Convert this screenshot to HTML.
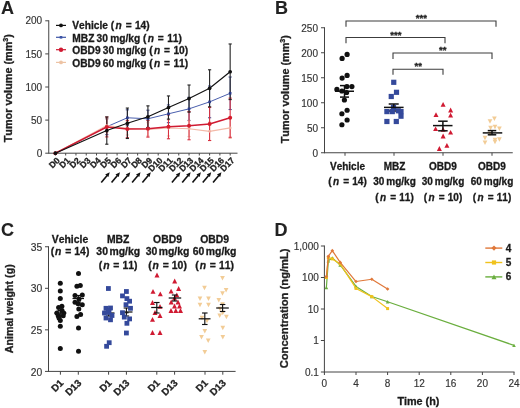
<!DOCTYPE html>
<html><head><meta charset="utf-8"><style>
html,body{margin:0;padding:0;background:#fff;}
svg{display:block;will-change:transform;font-family:'Liberation Sans',sans-serif;font-kerning:none;}
text{font-family:'Liberation Sans',sans-serif;font-kerning:none;}
</style></head><body>
<svg width="520" height="408" viewBox="0 0 520 408">
<rect width="520" height="408" fill="#fff"/>
<text x="1.00" y="13.60" font-size="18" font-weight="bold" text-anchor="start" fill="#222" stroke="#222" stroke-width="0.1" >A</text>
<line x1="48.75" y1="20.30" x2="48.75" y2="153.70" stroke="#444" stroke-width="1"/>
<line x1="45.25" y1="153.20" x2="48.75" y2="153.20" stroke="#444" stroke-width="1"/>
<text x="42.20" y="156.80" font-size="10" font-weight="normal" text-anchor="end" fill="#333" stroke="#333" stroke-width="0.15" >0</text>
<line x1="45.25" y1="120.10" x2="48.75" y2="120.10" stroke="#444" stroke-width="1"/>
<text x="42.20" y="123.70" font-size="10" font-weight="normal" text-anchor="end" fill="#333" stroke="#333" stroke-width="0.15" >50</text>
<line x1="45.25" y1="87.00" x2="48.75" y2="87.00" stroke="#444" stroke-width="1"/>
<text x="42.20" y="90.60" font-size="10" font-weight="normal" text-anchor="end" fill="#333" stroke="#333" stroke-width="0.15" >100</text>
<line x1="45.25" y1="53.90" x2="48.75" y2="53.90" stroke="#444" stroke-width="1"/>
<text x="42.20" y="57.50" font-size="10" font-weight="normal" text-anchor="end" fill="#333" stroke="#333" stroke-width="0.15" >150</text>
<line x1="45.25" y1="20.80" x2="48.75" y2="20.80" stroke="#444" stroke-width="1"/>
<text x="42.20" y="24.40" font-size="10" font-weight="normal" text-anchor="end" fill="#333" stroke="#333" stroke-width="0.15" >200</text>
<text x="0" y="0" font-size="10.85" font-weight="bold" text-anchor="middle" fill="#222" stroke="#222" stroke-width="0.3" transform="translate(8.20,88.20) rotate(-90)" dominant-baseline="central">Tumor volume (mm<tspan font-size="7" dy="-3.5">3</tspan><tspan dy="3.5">)</tspan></text>
<line x1="48.75" y1="153.20" x2="237.50" y2="153.20" stroke="#444" stroke-width="1"/>
<line x1="55.40" y1="153.20" x2="55.40" y2="155.50" stroke="#444" stroke-width="1"/>
<text x="0" y="0" font-size="8.7" font-weight="bold" text-anchor="end" fill="#222" stroke="#222" stroke-width="0.3" transform="translate(60.30,161.00) rotate(-45)">D0</text>
<line x1="65.68" y1="153.20" x2="65.68" y2="155.50" stroke="#444" stroke-width="1"/>
<text x="0" y="0" font-size="8.7" font-weight="bold" text-anchor="end" fill="#222" stroke="#222" stroke-width="0.3" transform="translate(70.58,161.00) rotate(-45)">D1</text>
<line x1="75.96" y1="153.20" x2="75.96" y2="155.50" stroke="#444" stroke-width="1"/>
<text x="0" y="0" font-size="8.7" font-weight="bold" text-anchor="end" fill="#222" stroke="#222" stroke-width="0.3" transform="translate(80.86,161.00) rotate(-45)">D2</text>
<line x1="86.24" y1="153.20" x2="86.24" y2="155.50" stroke="#444" stroke-width="1"/>
<text x="0" y="0" font-size="8.7" font-weight="bold" text-anchor="end" fill="#222" stroke="#222" stroke-width="0.3" transform="translate(91.14,161.00) rotate(-45)">D3</text>
<line x1="96.52" y1="153.20" x2="96.52" y2="155.50" stroke="#444" stroke-width="1"/>
<text x="0" y="0" font-size="8.7" font-weight="bold" text-anchor="end" fill="#222" stroke="#222" stroke-width="0.3" transform="translate(101.42,161.00) rotate(-45)">D4</text>
<line x1="106.80" y1="153.20" x2="106.80" y2="155.50" stroke="#444" stroke-width="1"/>
<text x="0" y="0" font-size="8.7" font-weight="bold" text-anchor="end" fill="#222" stroke="#222" stroke-width="0.3" transform="translate(111.70,161.00) rotate(-45)">D5</text>
<line x1="117.08" y1="153.20" x2="117.08" y2="155.50" stroke="#444" stroke-width="1"/>
<text x="0" y="0" font-size="8.7" font-weight="bold" text-anchor="end" fill="#222" stroke="#222" stroke-width="0.3" transform="translate(121.98,161.00) rotate(-45)">D6</text>
<line x1="127.36" y1="153.20" x2="127.36" y2="155.50" stroke="#444" stroke-width="1"/>
<text x="0" y="0" font-size="8.7" font-weight="bold" text-anchor="end" fill="#222" stroke="#222" stroke-width="0.3" transform="translate(132.26,161.00) rotate(-45)">D7</text>
<line x1="137.64" y1="153.20" x2="137.64" y2="155.50" stroke="#444" stroke-width="1"/>
<text x="0" y="0" font-size="8.7" font-weight="bold" text-anchor="end" fill="#222" stroke="#222" stroke-width="0.3" transform="translate(142.54,161.00) rotate(-45)">D8</text>
<line x1="147.92" y1="153.20" x2="147.92" y2="155.50" stroke="#444" stroke-width="1"/>
<text x="0" y="0" font-size="8.7" font-weight="bold" text-anchor="end" fill="#222" stroke="#222" stroke-width="0.3" transform="translate(152.82,161.00) rotate(-45)">D9</text>
<line x1="158.20" y1="153.20" x2="158.20" y2="155.50" stroke="#444" stroke-width="1"/>
<text x="0" y="0" font-size="8.7" font-weight="bold" text-anchor="end" fill="#222" stroke="#222" stroke-width="0.3" transform="translate(163.10,161.00) rotate(-45)">D10</text>
<line x1="168.48" y1="153.20" x2="168.48" y2="155.50" stroke="#444" stroke-width="1"/>
<text x="0" y="0" font-size="8.7" font-weight="bold" text-anchor="end" fill="#222" stroke="#222" stroke-width="0.3" transform="translate(173.38,161.00) rotate(-45)">D11</text>
<line x1="178.76" y1="153.20" x2="178.76" y2="155.50" stroke="#444" stroke-width="1"/>
<text x="0" y="0" font-size="8.7" font-weight="bold" text-anchor="end" fill="#222" stroke="#222" stroke-width="0.3" transform="translate(183.66,161.00) rotate(-45)">D12</text>
<line x1="189.04" y1="153.20" x2="189.04" y2="155.50" stroke="#444" stroke-width="1"/>
<text x="0" y="0" font-size="8.7" font-weight="bold" text-anchor="end" fill="#222" stroke="#222" stroke-width="0.3" transform="translate(193.94,161.00) rotate(-45)">D13</text>
<line x1="199.32" y1="153.20" x2="199.32" y2="155.50" stroke="#444" stroke-width="1"/>
<text x="0" y="0" font-size="8.7" font-weight="bold" text-anchor="end" fill="#222" stroke="#222" stroke-width="0.3" transform="translate(204.22,161.00) rotate(-45)">D14</text>
<line x1="209.60" y1="153.20" x2="209.60" y2="155.50" stroke="#444" stroke-width="1"/>
<text x="0" y="0" font-size="8.7" font-weight="bold" text-anchor="end" fill="#222" stroke="#222" stroke-width="0.3" transform="translate(214.50,161.00) rotate(-45)">D15</text>
<line x1="219.88" y1="153.20" x2="219.88" y2="155.50" stroke="#444" stroke-width="1"/>
<text x="0" y="0" font-size="8.7" font-weight="bold" text-anchor="end" fill="#222" stroke="#222" stroke-width="0.3" transform="translate(224.78,161.00) rotate(-45)">D16</text>
<line x1="230.16" y1="153.20" x2="230.16" y2="155.50" stroke="#444" stroke-width="1"/>
<text x="0" y="0" font-size="8.7" font-weight="bold" text-anchor="end" fill="#222" stroke="#222" stroke-width="0.3" transform="translate(235.06,161.00) rotate(-45)">D17</text>
<line x1="101.27" y1="182.61" x2="107.12" y2="175.39" stroke="#111" stroke-width="1.6"/>
<polygon points="109.70,172.20 108.44,177.10 105.17,174.45" fill="#111"/>
<line x1="111.55" y1="182.61" x2="117.40" y2="175.39" stroke="#111" stroke-width="1.6"/>
<polygon points="119.98,172.20 118.72,177.10 115.45,174.45" fill="#111"/>
<line x1="121.83" y1="182.61" x2="127.68" y2="175.39" stroke="#111" stroke-width="1.6"/>
<polygon points="130.26,172.20 129.00,177.10 125.73,174.45" fill="#111"/>
<line x1="132.11" y1="182.61" x2="137.96" y2="175.39" stroke="#111" stroke-width="1.6"/>
<polygon points="140.54,172.20 139.28,177.10 136.01,174.45" fill="#111"/>
<line x1="142.39" y1="182.61" x2="148.24" y2="175.39" stroke="#111" stroke-width="1.6"/>
<polygon points="150.82,172.20 149.56,177.10 146.29,174.45" fill="#111"/>
<line x1="171.93" y1="182.61" x2="177.78" y2="175.39" stroke="#111" stroke-width="1.6"/>
<polygon points="180.36,172.20 179.10,177.10 175.83,174.45" fill="#111"/>
<line x1="182.21" y1="182.61" x2="188.06" y2="175.39" stroke="#111" stroke-width="1.6"/>
<polygon points="190.64,172.20 189.38,177.10 186.11,174.45" fill="#111"/>
<line x1="192.49" y1="182.61" x2="198.34" y2="175.39" stroke="#111" stroke-width="1.6"/>
<polygon points="200.92,172.20 199.66,177.10 196.39,174.45" fill="#111"/>
<line x1="202.77" y1="182.61" x2="208.62" y2="175.39" stroke="#111" stroke-width="1.6"/>
<polygon points="211.20,172.20 209.94,177.10 206.67,174.45" fill="#111"/>
<line x1="213.05" y1="182.61" x2="218.90" y2="175.39" stroke="#111" stroke-width="1.6"/>
<polygon points="221.48,172.20 220.22,177.10 216.95,174.45" fill="#111"/>
<line x1="106.80" y1="134.66" x2="106.80" y2="118.78" stroke="#3a4890" stroke-width="1"/>
<line x1="105.20" y1="134.66" x2="108.40" y2="134.66" stroke="#3a4890" stroke-width="1"/>
<line x1="105.20" y1="118.78" x2="108.40" y2="118.78" stroke="#3a4890" stroke-width="1"/>
<line x1="127.36" y1="125.73" x2="127.36" y2="109.84" stroke="#3a4890" stroke-width="1"/>
<line x1="125.76" y1="125.73" x2="128.96" y2="125.73" stroke="#3a4890" stroke-width="1"/>
<line x1="125.76" y1="109.84" x2="128.96" y2="109.84" stroke="#3a4890" stroke-width="1"/>
<line x1="147.92" y1="127.38" x2="147.92" y2="110.17" stroke="#3a4890" stroke-width="1"/>
<line x1="146.32" y1="127.38" x2="149.52" y2="127.38" stroke="#3a4890" stroke-width="1"/>
<line x1="146.32" y1="110.17" x2="149.52" y2="110.17" stroke="#3a4890" stroke-width="1"/>
<line x1="168.48" y1="122.68" x2="168.48" y2="104.94" stroke="#3a4890" stroke-width="1"/>
<line x1="166.88" y1="122.68" x2="170.08" y2="122.68" stroke="#3a4890" stroke-width="1"/>
<line x1="166.88" y1="104.94" x2="170.08" y2="104.94" stroke="#3a4890" stroke-width="1"/>
<line x1="189.04" y1="120.43" x2="189.04" y2="97.26" stroke="#3a4890" stroke-width="1"/>
<line x1="187.44" y1="120.43" x2="190.64" y2="120.43" stroke="#3a4890" stroke-width="1"/>
<line x1="187.44" y1="97.26" x2="190.64" y2="97.26" stroke="#3a4890" stroke-width="1"/>
<line x1="209.60" y1="117.78" x2="209.60" y2="86.01" stroke="#3a4890" stroke-width="1"/>
<line x1="208.00" y1="117.78" x2="211.20" y2="117.78" stroke="#3a4890" stroke-width="1"/>
<line x1="208.00" y1="86.01" x2="211.20" y2="86.01" stroke="#3a4890" stroke-width="1"/>
<line x1="230.16" y1="109.57" x2="230.16" y2="77.00" stroke="#3a4890" stroke-width="1"/>
<line x1="228.56" y1="109.57" x2="231.76" y2="109.57" stroke="#3a4890" stroke-width="1"/>
<line x1="228.56" y1="77.00" x2="231.76" y2="77.00" stroke="#3a4890" stroke-width="1"/>
<line x1="106.80" y1="132.15" x2="106.80" y2="118.91" stroke="#f2c0b0" stroke-width="1"/>
<line x1="105.20" y1="132.15" x2="108.40" y2="132.15" stroke="#f2c0b0" stroke-width="1"/>
<line x1="105.20" y1="118.91" x2="108.40" y2="118.91" stroke="#f2c0b0" stroke-width="1"/>
<line x1="127.36" y1="134.99" x2="127.36" y2="121.75" stroke="#f2c0b0" stroke-width="1"/>
<line x1="125.76" y1="134.99" x2="128.96" y2="134.99" stroke="#f2c0b0" stroke-width="1"/>
<line x1="125.76" y1="121.75" x2="128.96" y2="121.75" stroke="#f2c0b0" stroke-width="1"/>
<line x1="147.92" y1="135.99" x2="147.92" y2="122.75" stroke="#f2c0b0" stroke-width="1"/>
<line x1="146.32" y1="135.99" x2="149.52" y2="135.99" stroke="#f2c0b0" stroke-width="1"/>
<line x1="146.32" y1="122.75" x2="149.52" y2="122.75" stroke="#f2c0b0" stroke-width="1"/>
<line x1="168.48" y1="135.99" x2="168.48" y2="120.10" stroke="#f2c0b0" stroke-width="1"/>
<line x1="166.88" y1="135.99" x2="170.08" y2="135.99" stroke="#f2c0b0" stroke-width="1"/>
<line x1="166.88" y1="120.10" x2="170.08" y2="120.10" stroke="#f2c0b0" stroke-width="1"/>
<line x1="189.04" y1="136.65" x2="189.04" y2="120.76" stroke="#f2c0b0" stroke-width="1"/>
<line x1="187.44" y1="136.65" x2="190.64" y2="136.65" stroke="#f2c0b0" stroke-width="1"/>
<line x1="187.44" y1="120.76" x2="190.64" y2="120.76" stroke="#f2c0b0" stroke-width="1"/>
<line x1="209.60" y1="140.62" x2="209.60" y2="122.09" stroke="#f2c0b0" stroke-width="1"/>
<line x1="208.00" y1="140.62" x2="211.20" y2="140.62" stroke="#f2c0b0" stroke-width="1"/>
<line x1="208.00" y1="122.09" x2="211.20" y2="122.09" stroke="#f2c0b0" stroke-width="1"/>
<line x1="230.16" y1="138.50" x2="230.16" y2="117.32" stroke="#f2c0b0" stroke-width="1"/>
<line x1="228.56" y1="138.50" x2="231.76" y2="138.50" stroke="#f2c0b0" stroke-width="1"/>
<line x1="228.56" y1="117.32" x2="231.76" y2="117.32" stroke="#f2c0b0" stroke-width="1"/>
<line x1="106.80" y1="136.91" x2="106.80" y2="117.05" stroke="#d83040" stroke-width="1.1"/>
<line x1="105.20" y1="136.91" x2="108.40" y2="136.91" stroke="#d83040" stroke-width="1.1"/>
<line x1="105.20" y1="117.05" x2="108.40" y2="117.05" stroke="#d83040" stroke-width="1.1"/>
<line x1="127.36" y1="137.64" x2="127.36" y2="120.43" stroke="#d83040" stroke-width="1.1"/>
<line x1="125.76" y1="137.64" x2="128.96" y2="137.64" stroke="#d83040" stroke-width="1.1"/>
<line x1="125.76" y1="120.43" x2="128.96" y2="120.43" stroke="#d83040" stroke-width="1.1"/>
<line x1="147.92" y1="137.11" x2="147.92" y2="120.56" stroke="#d83040" stroke-width="1.1"/>
<line x1="146.32" y1="137.11" x2="149.52" y2="137.11" stroke="#d83040" stroke-width="1.1"/>
<line x1="146.32" y1="120.56" x2="149.52" y2="120.56" stroke="#d83040" stroke-width="1.1"/>
<line x1="168.48" y1="138.77" x2="168.48" y2="114.94" stroke="#d83040" stroke-width="1.1"/>
<line x1="166.88" y1="138.77" x2="170.08" y2="138.77" stroke="#d83040" stroke-width="1.1"/>
<line x1="166.88" y1="114.94" x2="170.08" y2="114.94" stroke="#d83040" stroke-width="1.1"/>
<line x1="189.04" y1="139.76" x2="189.04" y2="111.56" stroke="#d83040" stroke-width="1.1"/>
<line x1="187.44" y1="139.76" x2="190.64" y2="139.76" stroke="#d83040" stroke-width="1.1"/>
<line x1="187.44" y1="111.56" x2="190.64" y2="111.56" stroke="#d83040" stroke-width="1.1"/>
<line x1="209.60" y1="140.49" x2="209.60" y2="107.39" stroke="#d83040" stroke-width="1.1"/>
<line x1="208.00" y1="140.49" x2="211.20" y2="140.49" stroke="#d83040" stroke-width="1.1"/>
<line x1="208.00" y1="107.39" x2="211.20" y2="107.39" stroke="#d83040" stroke-width="1.1"/>
<line x1="230.16" y1="137.31" x2="230.16" y2="98.12" stroke="#d83040" stroke-width="1.1"/>
<line x1="228.56" y1="137.31" x2="231.76" y2="137.31" stroke="#d83040" stroke-width="1.1"/>
<line x1="228.56" y1="98.12" x2="231.76" y2="98.12" stroke="#d83040" stroke-width="1.1"/>
<line x1="106.80" y1="144.20" x2="106.80" y2="116.92" stroke="#222" stroke-width="1.1"/>
<line x1="105.20" y1="144.20" x2="108.40" y2="144.20" stroke="#222" stroke-width="1.1"/>
<line x1="105.20" y1="116.92" x2="108.40" y2="116.92" stroke="#222" stroke-width="1.1"/>
<line x1="127.36" y1="138.50" x2="127.36" y2="108.05" stroke="#222" stroke-width="1.1"/>
<line x1="125.76" y1="138.50" x2="128.96" y2="138.50" stroke="#222" stroke-width="1.1"/>
<line x1="125.76" y1="108.05" x2="128.96" y2="108.05" stroke="#222" stroke-width="1.1"/>
<line x1="147.92" y1="127.71" x2="147.92" y2="105.87" stroke="#222" stroke-width="1.1"/>
<line x1="146.32" y1="127.71" x2="149.52" y2="127.71" stroke="#222" stroke-width="1.1"/>
<line x1="146.32" y1="105.87" x2="149.52" y2="105.87" stroke="#222" stroke-width="1.1"/>
<line x1="168.48" y1="119.11" x2="168.48" y2="95.94" stroke="#222" stroke-width="1.1"/>
<line x1="166.88" y1="119.11" x2="170.08" y2="119.11" stroke="#222" stroke-width="1.1"/>
<line x1="166.88" y1="95.94" x2="170.08" y2="95.94" stroke="#222" stroke-width="1.1"/>
<line x1="189.04" y1="112.16" x2="189.04" y2="85.01" stroke="#222" stroke-width="1.1"/>
<line x1="187.44" y1="112.16" x2="190.64" y2="112.16" stroke="#222" stroke-width="1.1"/>
<line x1="187.44" y1="85.01" x2="190.64" y2="85.01" stroke="#222" stroke-width="1.1"/>
<line x1="209.60" y1="106.86" x2="209.60" y2="69.79" stroke="#222" stroke-width="1.1"/>
<line x1="208.00" y1="106.86" x2="211.20" y2="106.86" stroke="#222" stroke-width="1.1"/>
<line x1="208.00" y1="69.79" x2="211.20" y2="69.79" stroke="#222" stroke-width="1.1"/>
<line x1="230.16" y1="99.58" x2="230.16" y2="43.97" stroke="#222" stroke-width="1.1"/>
<line x1="228.56" y1="99.58" x2="231.76" y2="99.58" stroke="#222" stroke-width="1.1"/>
<line x1="228.56" y1="43.97" x2="231.76" y2="43.97" stroke="#222" stroke-width="1.1"/>
<polyline points="55.40,153.20 106.80,126.72 127.36,117.78 147.92,118.78 168.48,113.81 189.04,108.85 209.60,101.89 230.16,93.29" fill="none" stroke="#4a5fae" stroke-width="1.0" stroke-linejoin="round"/>
<rect x="54.10" y="151.90" width="2.6" height="2.6" fill="#2a3a88"/>
<rect x="105.50" y="125.42" width="2.6" height="2.6" fill="#2a3a88"/>
<rect x="126.06" y="116.48" width="2.6" height="2.6" fill="#2a3a88"/>
<rect x="146.62" y="117.48" width="2.6" height="2.6" fill="#2a3a88"/>
<rect x="167.18" y="112.51" width="2.6" height="2.6" fill="#2a3a88"/>
<rect x="187.74" y="107.55" width="2.6" height="2.6" fill="#2a3a88"/>
<rect x="208.30" y="100.59" width="2.6" height="2.6" fill="#2a3a88"/>
<rect x="228.86" y="91.99" width="2.6" height="2.6" fill="#2a3a88"/>
<polyline points="55.40,153.20 106.80,125.53 127.36,128.38 147.92,129.37 168.48,128.04 189.04,128.71 209.60,131.35 230.16,127.91" fill="none" stroke="#f3b9a8" stroke-width="1.1" stroke-linejoin="round"/>
<circle cx="55.40" cy="153.20" r="1.4" fill="#f0b0a0"/>
<circle cx="106.80" cy="125.53" r="1.4" fill="#f0b0a0"/>
<circle cx="127.36" cy="128.38" r="1.4" fill="#f0b0a0"/>
<circle cx="147.92" cy="129.37" r="1.4" fill="#f0b0a0"/>
<circle cx="168.48" cy="128.04" r="1.4" fill="#f0b0a0"/>
<circle cx="189.04" cy="128.71" r="1.4" fill="#f0b0a0"/>
<circle cx="209.60" cy="131.35" r="1.4" fill="#f0b0a0"/>
<circle cx="230.16" cy="127.91" r="1.4" fill="#f0b0a0"/>
<polyline points="55.40,153.20 106.80,126.98 127.36,129.04 147.92,128.84 168.48,126.85 189.04,125.66 209.60,123.94 230.16,117.72" fill="none" stroke="#d01a32" stroke-width="1.5" stroke-linejoin="round"/>
<circle cx="55.40" cy="153.20" r="2.0" fill="#d41c2c"/>
<circle cx="106.80" cy="126.98" r="2.0" fill="#d41c2c"/>
<circle cx="127.36" cy="129.04" r="2.0" fill="#d41c2c"/>
<circle cx="147.92" cy="128.84" r="2.0" fill="#d41c2c"/>
<circle cx="168.48" cy="126.85" r="2.0" fill="#d41c2c"/>
<circle cx="189.04" cy="125.66" r="2.0" fill="#d41c2c"/>
<circle cx="209.60" cy="123.94" r="2.0" fill="#d41c2c"/>
<circle cx="230.16" cy="117.72" r="2.0" fill="#d41c2c"/>
<polyline points="55.40,153.20 106.80,130.56 127.36,123.28 147.92,116.79 168.48,107.52 189.04,98.58 209.60,88.32 230.16,71.77" fill="none" stroke="#111" stroke-width="1.15" stroke-linejoin="round"/>
<circle cx="55.40" cy="153.20" r="1.85" fill="#111"/>
<circle cx="106.80" cy="130.56" r="1.85" fill="#111"/>
<circle cx="127.36" cy="123.28" r="1.85" fill="#111"/>
<circle cx="147.92" cy="116.79" r="1.85" fill="#111"/>
<circle cx="168.48" cy="107.52" r="1.85" fill="#111"/>
<circle cx="189.04" cy="98.58" r="1.85" fill="#111"/>
<circle cx="209.60" cy="88.32" r="1.85" fill="#111"/>
<circle cx="230.16" cy="71.77" r="1.85" fill="#111"/>
<line x1="56.00" y1="25.40" x2="66.00" y2="25.40" stroke="#111" stroke-width="1.2"/>
<circle cx="61.00" cy="25.40" r="1.9" fill="#111"/>
<text x="72.30" y="28.80" font-size="10.2" font-weight="bold" text-anchor="start" fill="#1a1a1a" stroke="#1a1a1a" stroke-width="0.3" ><tspan word-spacing="-0.6">Vehicle</tspan> (<tspan dx="1.3" font-style="italic">n</tspan><tspan dx="1.1"> =</tspan><tspan dx="0.5"> 14)</tspan></text>
<line x1="56.00" y1="37.30" x2="66.00" y2="37.30" stroke="#3d55a6" stroke-width="1.2"/>
<rect x="59.70" y="36.00" width="2.6" height="2.6" fill="#3d55a6"/>
<text x="72.30" y="41.60" font-size="10.2" font-weight="bold" text-anchor="start" fill="#1a1a1a" stroke="#1a1a1a" stroke-width="0.3" ><tspan word-spacing="-0.6">MBZ 30 mg/kg</tspan> (<tspan dx="1.3" font-style="italic">n</tspan><tspan dx="1.1"> =</tspan><tspan dx="0.5"> 11)</tspan></text>
<line x1="56.00" y1="49.70" x2="66.00" y2="49.70" stroke="#d01a32" stroke-width="1.2"/>
<circle cx="61.00" cy="49.70" r="2.2" fill="#d01a32"/>
<text x="72.30" y="54.30" font-size="10.2" font-weight="bold" text-anchor="start" fill="#1a1a1a" stroke="#1a1a1a" stroke-width="0.3" ><tspan word-spacing="-0.6">OBD9 30 mg/kg</tspan> (<tspan dx="1.3" font-style="italic">n</tspan><tspan dx="1.1"> =</tspan><tspan dx="0.5"> 10)</tspan></text>
<line x1="56.00" y1="62.40" x2="66.00" y2="62.40" stroke="#edc3a4" stroke-width="1.2"/>
<circle cx="61.00" cy="62.40" r="1.9" fill="#edc3a4"/>
<text x="72.30" y="67.10" font-size="10.2" font-weight="bold" text-anchor="start" fill="#1a1a1a" stroke="#1a1a1a" stroke-width="0.3" ><tspan word-spacing="-0.6">OBD9 60 mg/kg</tspan> (<tspan dx="1.3" font-style="italic">n</tspan><tspan dx="1.1"> =</tspan><tspan dx="0.5"> 11)</tspan></text>
<text x="275.00" y="13.60" font-size="18" font-weight="bold" text-anchor="start" fill="#222" stroke="#222" stroke-width="0.1" >B</text>
<line x1="324.50" y1="27.25" x2="324.50" y2="153.25" stroke="#444" stroke-width="1"/>
<line x1="321.00" y1="152.75" x2="324.50" y2="152.75" stroke="#444" stroke-width="1"/>
<text x="318.00" y="157.05" font-size="10" font-weight="normal" text-anchor="end" fill="#333" stroke="#333" stroke-width="0.15" >0</text>
<line x1="321.00" y1="127.75" x2="324.50" y2="127.75" stroke="#444" stroke-width="1"/>
<text x="318.00" y="132.05" font-size="10" font-weight="normal" text-anchor="end" fill="#333" stroke="#333" stroke-width="0.15" >50</text>
<line x1="321.00" y1="102.75" x2="324.50" y2="102.75" stroke="#444" stroke-width="1"/>
<text x="318.00" y="107.05" font-size="10" font-weight="normal" text-anchor="end" fill="#333" stroke="#333" stroke-width="0.15" >100</text>
<line x1="321.00" y1="77.75" x2="324.50" y2="77.75" stroke="#444" stroke-width="1"/>
<text x="318.00" y="82.05" font-size="10" font-weight="normal" text-anchor="end" fill="#333" stroke="#333" stroke-width="0.15" >150</text>
<line x1="321.00" y1="52.75" x2="324.50" y2="52.75" stroke="#444" stroke-width="1"/>
<text x="318.00" y="57.05" font-size="10" font-weight="normal" text-anchor="end" fill="#333" stroke="#333" stroke-width="0.15" >200</text>
<line x1="321.00" y1="27.75" x2="324.50" y2="27.75" stroke="#444" stroke-width="1"/>
<text x="318.00" y="32.05" font-size="10" font-weight="normal" text-anchor="end" fill="#333" stroke="#333" stroke-width="0.15" >250</text>
<text x="0" y="0" font-size="10.85" font-weight="bold" text-anchor="middle" fill="#222" stroke="#222" stroke-width="0.3" transform="translate(285.20,89.20) rotate(-90)" dominant-baseline="central">Tumor volume (mm<tspan font-size="7" dy="-3.5">3</tspan><tspan dy="3.5">)</tspan></text>
<line x1="324.50" y1="152.75" x2="512.75" y2="152.75" stroke="#444" stroke-width="1"/>
<line x1="345.00" y1="152.75" x2="345.00" y2="155.75" stroke="#444" stroke-width="1"/>
<line x1="394.00" y1="152.75" x2="394.00" y2="155.75" stroke="#444" stroke-width="1"/>
<line x1="443.00" y1="152.75" x2="443.00" y2="155.75" stroke="#444" stroke-width="1"/>
<line x1="492.00" y1="152.75" x2="492.00" y2="155.75" stroke="#444" stroke-width="1"/>
<polyline points="346.00,26.80 346.00,21.00 496.00,21.00 496.00,26.80" fill="none" stroke="#3c3c3c" stroke-width="1.1"/>
<text x="421.30" y="21.00" font-size="9.6" font-weight="bold" text-anchor="middle" fill="#222" stroke="#222" stroke-width="0.3" >***</text>
<polyline points="346.00,43.30 346.00,37.50 445.00,37.50 445.00,43.30" fill="none" stroke="#3c3c3c" stroke-width="1.1"/>
<text x="395.80" y="38.00" font-size="9.6" font-weight="bold" text-anchor="middle" fill="#222" stroke="#222" stroke-width="0.3" >***</text>
<polyline points="393.00,59.00 393.00,53.00 492.00,53.00 492.00,59.00" fill="none" stroke="#3c3c3c" stroke-width="1.1"/>
<text x="442.80" y="53.00" font-size="9.6" font-weight="bold" text-anchor="middle" fill="#222" stroke="#222" stroke-width="0.3" >**</text>
<polyline points="393.00,74.80 393.00,69.20 443.00,69.20 443.00,74.80" fill="none" stroke="#3c3c3c" stroke-width="1.1"/>
<text x="418.30" y="69.20" font-size="9.6" font-weight="bold" text-anchor="middle" fill="#222" stroke="#222" stroke-width="0.3" >**</text>
<circle cx="347.10" cy="54.40" r="2.6" fill="#111"/>
<circle cx="342.10" cy="58.40" r="2.6" fill="#111"/>
<circle cx="347.10" cy="75.40" r="2.6" fill="#111"/>
<circle cx="342.10" cy="78.10" r="2.6" fill="#111"/>
<circle cx="346.90" cy="86.60" r="2.6" fill="#111"/>
<circle cx="351.90" cy="86.60" r="2.6" fill="#111"/>
<circle cx="336.90" cy="89.40" r="2.6" fill="#111"/>
<circle cx="341.90" cy="91.00" r="2.6" fill="#111"/>
<circle cx="346.60" cy="92.50" r="2.6" fill="#111"/>
<circle cx="344.40" cy="100.00" r="2.6" fill="#111"/>
<circle cx="347.10" cy="110.25" r="2.6" fill="#111"/>
<circle cx="341.90" cy="113.75" r="2.6" fill="#111"/>
<circle cx="347.10" cy="120.00" r="2.6" fill="#111"/>
<circle cx="341.90" cy="124.75" r="2.6" fill="#111"/>
<line x1="335.00" y1="91.25" x2="354.00" y2="91.25" stroke="#111" stroke-width="1.5"/>
<line x1="344.50" y1="85.60" x2="344.50" y2="97.10" stroke="#111" stroke-width="1.5"/>
<line x1="340.00" y1="85.60" x2="349.00" y2="85.60" stroke="#111" stroke-width="1.5"/>
<line x1="340.00" y1="97.10" x2="349.00" y2="97.10" stroke="#111" stroke-width="1.5"/>
<line x1="393.70" y1="104.00" x2="393.70" y2="111.00" stroke="#111" stroke-width="1.5"/>
<line x1="388.70" y1="104.00" x2="398.70" y2="104.00" stroke="#111" stroke-width="1.5"/>
<line x1="388.70" y1="111.00" x2="398.70" y2="111.00" stroke="#111" stroke-width="1.5"/>
<rect x="391.15" y="79.70" width="5.2" height="5.2" fill="#34499b"/>
<rect x="393.90" y="89.70" width="5.2" height="5.2" fill="#34499b"/>
<rect x="388.65" y="93.90" width="5.2" height="5.2" fill="#34499b"/>
<rect x="390.90" y="104.90" width="5.2" height="5.2" fill="#34499b"/>
<rect x="384.30" y="109.00" width="5.2" height="5.2" fill="#34499b"/>
<rect x="389.70" y="109.00" width="5.2" height="5.2" fill="#34499b"/>
<rect x="395.70" y="108.20" width="5.2" height="5.2" fill="#34499b"/>
<rect x="398.40" y="109.00" width="5.2" height="5.2" fill="#34499b"/>
<rect x="398.40" y="113.60" width="5.2" height="5.2" fill="#34499b"/>
<rect x="384.30" y="118.90" width="5.2" height="5.2" fill="#34499b"/>
<rect x="393.70" y="118.90" width="5.2" height="5.2" fill="#34499b"/>
<line x1="384.00" y1="107.40" x2="403.60" y2="107.40" stroke="#111" stroke-width="1.5"/>
<line x1="393.70" y1="104.00" x2="393.70" y2="107.40" stroke="#111" stroke-width="1.5"/>
<polygon points="443.10,102.03 440.60,106.78 445.60,106.78" fill="#d01a32"/>
<polygon points="450.60,107.62 448.10,112.38 453.10,112.38" fill="#d01a32"/>
<polygon points="436.00,112.22 433.50,116.97 438.50,116.97" fill="#d01a32"/>
<polygon points="450.60,112.83 448.10,117.58 453.10,117.58" fill="#d01a32"/>
<polygon points="435.60,126.38 433.10,131.12 438.10,131.12" fill="#d01a32"/>
<polygon points="443.10,127.03 440.60,131.78 445.60,131.78" fill="#d01a32"/>
<polygon points="450.60,129.88 448.10,134.62 453.10,134.62" fill="#d01a32"/>
<polygon points="443.10,133.62 440.60,138.38 445.60,138.38" fill="#d01a32"/>
<polygon points="446.90,143.03 444.40,147.78 449.40,147.78" fill="#d01a32"/>
<polygon points="439.40,146.12 436.90,150.88 441.90,150.88" fill="#d01a32"/>
<line x1="433.00" y1="125.60" x2="452.50" y2="125.60" stroke="#111" stroke-width="1.5"/>
<line x1="442.90" y1="121.20" x2="442.90" y2="130.80" stroke="#111" stroke-width="1.5"/>
<line x1="438.15" y1="121.20" x2="447.65" y2="121.20" stroke="#111" stroke-width="1.5"/>
<line x1="438.15" y1="130.80" x2="447.65" y2="130.80" stroke="#111" stroke-width="1.5"/>
<polygon points="494.40,120.98 492.05,116.52 496.75,116.52" fill="#f2cc96"/>
<polygon points="490.00,123.73 487.65,119.27 492.35,119.27" fill="#f2cc96"/>
<polygon points="490.60,130.33 488.25,125.87 492.95,125.87" fill="#f2cc96"/>
<polygon points="495.00,129.13 492.65,124.67 497.35,124.67" fill="#f2cc96"/>
<polygon points="499.40,130.98 497.05,126.52 501.75,126.52" fill="#f2cc96"/>
<polygon points="485.00,140.33 482.65,135.87 487.35,135.87" fill="#f2cc96"/>
<polygon points="495.00,142.23 492.65,137.77 497.35,137.77" fill="#f2cc96"/>
<polygon points="499.40,141.63 497.05,137.17 501.75,137.17" fill="#f2cc96"/>
<polygon points="485.00,144.98 482.65,140.52 487.35,140.52" fill="#f2cc96"/>
<polygon points="495.00,144.13 492.65,139.67 497.35,139.67" fill="#f2cc96"/>
<polygon points="490.00,136.23 487.65,131.77 492.35,131.77" fill="#f2cc96"/>
<line x1="482.75" y1="132.90" x2="502.25" y2="132.90" stroke="#111" stroke-width="1.5"/>
<line x1="492.00" y1="130.60" x2="492.00" y2="134.80" stroke="#111" stroke-width="1.5"/>
<line x1="487.75" y1="130.60" x2="496.25" y2="130.60" stroke="#111" stroke-width="1.5"/>
<line x1="487.75" y1="134.80" x2="496.25" y2="134.80" stroke="#111" stroke-width="1.5"/>
<text x="347.50" y="170.00" font-size="10" font-weight="bold" text-anchor="middle" fill="#1a1a1a" stroke="#1a1a1a" stroke-width="0.3" >Vehicle</text>
<text x="347.50" y="185.00" font-size="10" font-weight="bold" text-anchor="middle" fill="#1a1a1a" stroke="#1a1a1a" stroke-width="0.3" >(<tspan dx="1.5" font-style="italic">n</tspan><tspan dx="1.2"> =</tspan><tspan dx="0.5"> 14)</tspan></text>
<text x="394.50" y="170.00" font-size="10" font-weight="bold" text-anchor="middle" fill="#1a1a1a" stroke="#1a1a1a" stroke-width="0.3" >MBZ</text>
<text x="394.50" y="185.00" font-size="10" font-weight="bold" text-anchor="middle" fill="#1a1a1a" stroke="#1a1a1a" stroke-width="0.3" ><tspan word-spacing="-0.8">30 mg/kg</tspan></text>
<text x="394.50" y="200.60" font-size="10" font-weight="bold" text-anchor="middle" fill="#1a1a1a" stroke="#1a1a1a" stroke-width="0.3" >(<tspan dx="1.5" font-style="italic">n</tspan><tspan dx="1.2"> =</tspan><tspan dx="0.5"> 11)</tspan></text>
<text x="443.00" y="170.00" font-size="10" font-weight="bold" text-anchor="middle" fill="#1a1a1a" stroke="#1a1a1a" stroke-width="0.3" >OBD9</text>
<text x="443.00" y="185.00" font-size="10" font-weight="bold" text-anchor="middle" fill="#1a1a1a" stroke="#1a1a1a" stroke-width="0.3" ><tspan word-spacing="-0.8">30 mg/kg</tspan></text>
<text x="443.00" y="200.60" font-size="10" font-weight="bold" text-anchor="middle" fill="#1a1a1a" stroke="#1a1a1a" stroke-width="0.3" >(<tspan dx="1.5" font-style="italic">n</tspan><tspan dx="1.2"> =</tspan><tspan dx="0.5"> 10)</tspan></text>
<text x="492.00" y="170.00" font-size="10" font-weight="bold" text-anchor="middle" fill="#1a1a1a" stroke="#1a1a1a" stroke-width="0.3" >OBD9</text>
<text x="492.00" y="185.00" font-size="10" font-weight="bold" text-anchor="middle" fill="#1a1a1a" stroke="#1a1a1a" stroke-width="0.3" ><tspan word-spacing="-0.8">60 mg/kg</tspan></text>
<text x="492.00" y="200.60" font-size="10" font-weight="bold" text-anchor="middle" fill="#1a1a1a" stroke="#1a1a1a" stroke-width="0.3" >(<tspan dx="1.5" font-style="italic">n</tspan><tspan dx="1.2"> =</tspan><tspan dx="0.5"> 11)</tspan></text>
<text x="1.00" y="236.40" font-size="18" font-weight="bold" text-anchor="start" fill="#222" stroke="#222" stroke-width="0.1" >C</text>
<line x1="48.50" y1="246.25" x2="48.50" y2="371.90" stroke="#444" stroke-width="1"/>
<line x1="45.00" y1="371.40" x2="48.50" y2="371.40" stroke="#444" stroke-width="1"/>
<text x="42.20" y="375.50" font-size="10.3" font-weight="normal" text-anchor="end" fill="#333" stroke="#333" stroke-width="0.15" >20</text>
<line x1="45.00" y1="329.85" x2="48.50" y2="329.85" stroke="#444" stroke-width="1"/>
<text x="42.20" y="333.95" font-size="10.3" font-weight="normal" text-anchor="end" fill="#333" stroke="#333" stroke-width="0.15" >25</text>
<line x1="45.00" y1="288.30" x2="48.50" y2="288.30" stroke="#444" stroke-width="1"/>
<text x="42.20" y="292.40" font-size="10.3" font-weight="normal" text-anchor="end" fill="#333" stroke="#333" stroke-width="0.15" >30</text>
<line x1="45.00" y1="246.75" x2="48.50" y2="246.75" stroke="#444" stroke-width="1"/>
<text x="42.20" y="250.85" font-size="10.3" font-weight="normal" text-anchor="end" fill="#333" stroke="#333" stroke-width="0.15" >35</text>
<text x="0" y="0" font-size="10.7" font-weight="bold" text-anchor="middle" fill="#222" stroke="#222" stroke-width="0.3" transform="translate(9.00,308.80) rotate(-90)" dominant-baseline="central">Animal weight (g)</text>
<line x1="48.50" y1="371.40" x2="235.60" y2="371.40" stroke="#444" stroke-width="1"/>
<line x1="60.40" y1="371.40" x2="60.40" y2="374.70" stroke="#444" stroke-width="1"/>
<text x="0" y="0" font-size="9.8" font-weight="bold" text-anchor="end" fill="#222" stroke="#222" stroke-width="0.3" transform="translate(64.10,383.60) rotate(-45)">D1</text>
<line x1="78.30" y1="371.40" x2="78.30" y2="374.70" stroke="#444" stroke-width="1"/>
<text x="0" y="0" font-size="9.8" font-weight="bold" text-anchor="end" fill="#222" stroke="#222" stroke-width="0.3" transform="translate(82.00,383.60) rotate(-45)">D13</text>
<line x1="108.60" y1="371.40" x2="108.60" y2="374.70" stroke="#444" stroke-width="1"/>
<text x="0" y="0" font-size="9.8" font-weight="bold" text-anchor="end" fill="#222" stroke="#222" stroke-width="0.3" transform="translate(112.30,383.60) rotate(-45)">D1</text>
<line x1="126.40" y1="371.40" x2="126.40" y2="374.70" stroke="#444" stroke-width="1"/>
<text x="0" y="0" font-size="9.8" font-weight="bold" text-anchor="end" fill="#222" stroke="#222" stroke-width="0.3" transform="translate(130.10,383.60) rotate(-45)">D13</text>
<line x1="156.80" y1="371.40" x2="156.80" y2="374.70" stroke="#444" stroke-width="1"/>
<text x="0" y="0" font-size="9.8" font-weight="bold" text-anchor="end" fill="#222" stroke="#222" stroke-width="0.3" transform="translate(160.50,383.60) rotate(-45)">D1</text>
<line x1="174.60" y1="371.40" x2="174.60" y2="374.70" stroke="#444" stroke-width="1"/>
<text x="0" y="0" font-size="9.8" font-weight="bold" text-anchor="end" fill="#222" stroke="#222" stroke-width="0.3" transform="translate(178.30,383.60) rotate(-45)">D13</text>
<line x1="205.00" y1="371.40" x2="205.00" y2="374.70" stroke="#444" stroke-width="1"/>
<text x="0" y="0" font-size="9.8" font-weight="bold" text-anchor="end" fill="#222" stroke="#222" stroke-width="0.3" transform="translate(208.70,383.60) rotate(-45)">D1</text>
<line x1="222.80" y1="371.40" x2="222.80" y2="374.70" stroke="#444" stroke-width="1"/>
<text x="0" y="0" font-size="9.8" font-weight="bold" text-anchor="end" fill="#222" stroke="#222" stroke-width="0.3" transform="translate(226.50,383.60) rotate(-45)">D13</text>
<text x="70.00" y="242.60" font-size="10.4" font-weight="bold" text-anchor="middle" fill="#1a1a1a" stroke="#1a1a1a" stroke-width="0.3" >Vehicle</text>
<text x="70.00" y="255.20" font-size="10.4" font-weight="bold" text-anchor="middle" fill="#1a1a1a" stroke="#1a1a1a" stroke-width="0.3" >(<tspan dx="1.0" font-style="italic">n</tspan><tspan dx="0.8"> =</tspan><tspan dx="0.2"> 14)</tspan></text>
<text x="118.20" y="242.60" font-size="10.4" font-weight="bold" text-anchor="middle" fill="#1a1a1a" stroke="#1a1a1a" stroke-width="0.3" >MBZ</text>
<text x="118.20" y="255.20" font-size="10.4" font-weight="bold" text-anchor="middle" fill="#1a1a1a" stroke="#1a1a1a" stroke-width="0.3" ><tspan word-spacing="-1.4">30 mg/kg</tspan></text>
<text x="118.20" y="269.10" font-size="10.4" font-weight="bold" text-anchor="middle" fill="#1a1a1a" stroke="#1a1a1a" stroke-width="0.3" >(<tspan dx="1.0" font-style="italic">n</tspan><tspan dx="0.8"> =</tspan><tspan dx="0.2"> 11)</tspan></text>
<text x="167.50" y="242.60" font-size="10.4" font-weight="bold" text-anchor="middle" fill="#1a1a1a" stroke="#1a1a1a" stroke-width="0.3" >OBD9</text>
<text x="167.50" y="255.20" font-size="10.4" font-weight="bold" text-anchor="middle" fill="#1a1a1a" stroke="#1a1a1a" stroke-width="0.3" ><tspan word-spacing="-1.4">30 mg/kg</tspan></text>
<text x="167.50" y="269.10" font-size="10.4" font-weight="bold" text-anchor="middle" fill="#1a1a1a" stroke="#1a1a1a" stroke-width="0.3" >(<tspan dx="1.0" font-style="italic">n</tspan><tspan dx="0.8"> =</tspan><tspan dx="0.2"> 10)</tspan></text>
<text x="214.60" y="242.60" font-size="10.4" font-weight="bold" text-anchor="middle" fill="#1a1a1a" stroke="#1a1a1a" stroke-width="0.3" >OBD9</text>
<text x="214.60" y="255.20" font-size="10.4" font-weight="bold" text-anchor="middle" fill="#1a1a1a" stroke="#1a1a1a" stroke-width="0.3" ><tspan word-spacing="-1.4">60 mg/kg</tspan></text>
<text x="214.60" y="269.10" font-size="10.4" font-weight="bold" text-anchor="middle" fill="#1a1a1a" stroke="#1a1a1a" stroke-width="0.3" >(<tspan dx="1.0" font-style="italic">n</tspan><tspan dx="0.8"> =</tspan><tspan dx="0.2"> 11)</tspan></text>
<circle cx="60.30" cy="283.20" r="2.5" fill="#111"/>
<circle cx="60.30" cy="291.00" r="2.5" fill="#111"/>
<circle cx="60.30" cy="298.50" r="2.5" fill="#111"/>
<circle cx="61.90" cy="306.30" r="2.5" fill="#111"/>
<circle cx="58.60" cy="307.50" r="2.5" fill="#111"/>
<circle cx="56.90" cy="313.00" r="2.5" fill="#111"/>
<circle cx="63.70" cy="313.00" r="2.5" fill="#111"/>
<circle cx="58.20" cy="315.80" r="2.5" fill="#111"/>
<circle cx="63.20" cy="315.80" r="2.5" fill="#111"/>
<circle cx="60.30" cy="320.50" r="2.5" fill="#111"/>
<circle cx="60.30" cy="326.30" r="2.5" fill="#111"/>
<circle cx="60.30" cy="348.50" r="2.5" fill="#111"/>
<circle cx="62.00" cy="310.50" r="2.5" fill="#111"/>
<circle cx="59.00" cy="318.00" r="2.5" fill="#111"/>
<line x1="54.40" y1="313.10" x2="66.30" y2="313.10" stroke="#111" stroke-width="1.25"/>
<line x1="60.30" y1="310.60" x2="60.30" y2="316.00" stroke="#111" stroke-width="1.15"/>
<line x1="57.55" y1="310.60" x2="63.05" y2="310.60" stroke="#111" stroke-width="1.15"/>
<line x1="57.55" y1="316.00" x2="63.05" y2="316.00" stroke="#111" stroke-width="1.15"/>
<circle cx="78.50" cy="273.50" r="2.5" fill="#111"/>
<circle cx="76.90" cy="286.30" r="2.5" fill="#111"/>
<circle cx="80.30" cy="285.60" r="2.5" fill="#111"/>
<circle cx="75.00" cy="295.60" r="2.5" fill="#111"/>
<circle cx="82.30" cy="295.00" r="2.5" fill="#111"/>
<circle cx="75.00" cy="302.30" r="2.5" fill="#111"/>
<circle cx="78.10" cy="303.80" r="2.5" fill="#111"/>
<circle cx="82.30" cy="304.80" r="2.5" fill="#111"/>
<circle cx="78.80" cy="309.00" r="2.5" fill="#111"/>
<circle cx="80.60" cy="314.40" r="2.5" fill="#111"/>
<circle cx="76.90" cy="316.50" r="2.5" fill="#111"/>
<circle cx="78.50" cy="328.10" r="2.5" fill="#111"/>
<circle cx="78.50" cy="351.30" r="2.5" fill="#111"/>
<circle cx="79.00" cy="299.00" r="2.5" fill="#111"/>
<line x1="72.50" y1="298.50" x2="84.00" y2="298.50" stroke="#111" stroke-width="1.25"/>
<line x1="78.30" y1="295.50" x2="78.30" y2="302.00" stroke="#111" stroke-width="1.15"/>
<line x1="75.55" y1="295.50" x2="81.05" y2="295.50" stroke="#111" stroke-width="1.15"/>
<line x1="75.55" y1="302.00" x2="81.05" y2="302.00" stroke="#111" stroke-width="1.15"/>
<line x1="102.50" y1="313.00" x2="114.50" y2="313.00" stroke="#111" stroke-width="1.25"/>
<line x1="108.60" y1="310.00" x2="108.60" y2="316.00" stroke="#111" stroke-width="1.15"/>
<line x1="105.85" y1="310.00" x2="111.35" y2="310.00" stroke="#111" stroke-width="1.15"/>
<line x1="105.85" y1="316.00" x2="111.35" y2="316.00" stroke="#111" stroke-width="1.15"/>
<rect x="106.00" y="286.10" width="4.8" height="4.8" fill="#34499b"/>
<rect x="103.60" y="305.90" width="4.8" height="4.8" fill="#34499b"/>
<rect x="108.10" y="305.60" width="4.8" height="4.8" fill="#34499b"/>
<rect x="102.10" y="310.60" width="4.8" height="4.8" fill="#34499b"/>
<rect x="106.60" y="310.10" width="4.8" height="4.8" fill="#34499b"/>
<rect x="109.60" y="313.10" width="4.8" height="4.8" fill="#34499b"/>
<rect x="103.60" y="315.60" width="4.8" height="4.8" fill="#34499b"/>
<rect x="108.10" y="317.40" width="4.8" height="4.8" fill="#34499b"/>
<rect x="106.10" y="308.10" width="4.8" height="4.8" fill="#34499b"/>
<rect x="106.80" y="340.30" width="4.8" height="4.8" fill="#34499b"/>
<rect x="104.20" y="343.90" width="4.8" height="4.8" fill="#34499b"/>
<line x1="120.50" y1="312.00" x2="132.50" y2="312.00" stroke="#111" stroke-width="1.25"/>
<line x1="126.40" y1="308.00" x2="126.40" y2="316.00" stroke="#111" stroke-width="1.15"/>
<line x1="123.65" y1="308.00" x2="129.15" y2="308.00" stroke="#111" stroke-width="1.15"/>
<line x1="123.65" y1="316.00" x2="129.15" y2="316.00" stroke="#111" stroke-width="1.15"/>
<rect x="124.00" y="289.10" width="4.8" height="4.8" fill="#34499b"/>
<rect x="120.10" y="293.50" width="4.8" height="4.8" fill="#34499b"/>
<rect x="124.50" y="296.20" width="4.8" height="4.8" fill="#34499b"/>
<rect x="127.20" y="298.80" width="4.8" height="4.8" fill="#34499b"/>
<rect x="123.60" y="302.30" width="4.8" height="4.8" fill="#34499b"/>
<rect x="128.10" y="305.90" width="4.8" height="4.8" fill="#34499b"/>
<rect x="120.10" y="310.30" width="4.8" height="4.8" fill="#34499b"/>
<rect x="121.90" y="314.70" width="4.8" height="4.8" fill="#34499b"/>
<rect x="127.20" y="316.50" width="4.8" height="4.8" fill="#34499b"/>
<rect x="124.50" y="320.90" width="4.8" height="4.8" fill="#34499b"/>
<rect x="124.00" y="330.60" width="4.8" height="4.8" fill="#34499b"/>
<line x1="125.30" y1="312.70" x2="128.60" y2="312.70" stroke="#111" stroke-width="1.25"/>
<polygon points="157.00,272.62 154.50,277.38 159.50,277.38" fill="#d01a32"/>
<polygon points="153.00,288.93 150.50,293.68 155.50,293.68" fill="#d01a32"/>
<polygon points="160.30,291.43 157.80,296.18 162.80,296.18" fill="#d01a32"/>
<polygon points="152.50,300.12 150.00,304.88 155.00,304.88" fill="#d01a32"/>
<polygon points="160.00,303.93 157.50,308.68 162.50,308.68" fill="#d01a32"/>
<polygon points="155.00,310.12 152.50,314.88 157.50,314.88" fill="#d01a32"/>
<polygon points="160.00,313.12 157.50,317.88 162.50,317.88" fill="#d01a32"/>
<polygon points="152.50,316.93 150.00,321.68 155.00,321.68" fill="#d01a32"/>
<polygon points="152.50,330.12 150.00,334.88 155.00,334.88" fill="#d01a32"/>
<polygon points="160.00,330.12 157.50,334.88 162.50,334.88" fill="#d01a32"/>
<line x1="151.20" y1="307.50" x2="162.50" y2="307.50" stroke="#111" stroke-width="1.25"/>
<line x1="156.80" y1="302.50" x2="156.80" y2="313.00" stroke="#111" stroke-width="1.15"/>
<line x1="154.05" y1="302.50" x2="159.55" y2="302.50" stroke="#111" stroke-width="1.15"/>
<line x1="154.05" y1="313.00" x2="159.55" y2="313.00" stroke="#111" stroke-width="1.15"/>
<polygon points="174.70,278.62 172.20,283.38 177.20,283.38" fill="#d01a32"/>
<polygon points="178.60,286.12 176.10,290.88 181.10,290.88" fill="#d01a32"/>
<polygon points="171.10,288.82 168.60,293.57 173.60,293.57" fill="#d01a32"/>
<polygon points="176.80,292.43 174.30,297.18 179.30,297.18" fill="#d01a32"/>
<polygon points="171.20,299.62 168.70,304.38 173.70,304.38" fill="#d01a32"/>
<polygon points="178.00,299.62 175.50,304.38 180.50,304.38" fill="#d01a32"/>
<polygon points="174.50,303.62 172.00,308.38 177.00,308.38" fill="#d01a32"/>
<polygon points="179.50,303.62 177.00,308.38 182.00,308.38" fill="#d01a32"/>
<polygon points="171.00,308.12 168.50,312.88 173.50,312.88" fill="#d01a32"/>
<polygon points="175.80,308.12 173.30,312.88 178.30,312.88" fill="#d01a32"/>
<polygon points="180.50,308.12 178.00,312.88 183.00,312.88" fill="#d01a32"/>
<polygon points="174.50,295.62 172.00,300.38 177.00,300.38" fill="#d01a32"/>
<line x1="168.70" y1="298.00" x2="181.20" y2="298.00" stroke="#111" stroke-width="1.25"/>
<line x1="174.60" y1="295.00" x2="174.60" y2="301.00" stroke="#111" stroke-width="1.15"/>
<line x1="171.85" y1="295.00" x2="177.35" y2="295.00" stroke="#111" stroke-width="1.15"/>
<line x1="171.85" y1="301.00" x2="177.35" y2="301.00" stroke="#111" stroke-width="1.15"/>
<polygon points="204.50,290.23 202.15,285.77 206.85,285.77" fill="#f2cc96"/>
<polygon points="200.00,301.03 197.65,296.57 202.35,296.57" fill="#f2cc96"/>
<polygon points="208.50,301.03 206.15,296.57 210.85,296.57" fill="#f2cc96"/>
<polygon points="200.00,307.23 197.65,302.77 202.35,302.77" fill="#f2cc96"/>
<polygon points="208.50,307.23 206.15,302.77 210.85,302.77" fill="#f2cc96"/>
<polygon points="204.80,333.53 202.45,329.07 207.15,329.07" fill="#f2cc96"/>
<polygon points="201.50,339.53 199.15,335.07 203.85,335.07" fill="#f2cc96"/>
<polygon points="208.20,342.93 205.85,338.47 210.55,338.47" fill="#f2cc96"/>
<polygon points="204.80,354.43 202.45,349.97 207.15,349.97" fill="#f2cc96"/>
<polygon points="202.00,320.23 199.65,315.77 204.35,315.77" fill="#f2cc96"/>
<polygon points="207.00,323.23 204.65,318.77 209.35,318.77" fill="#f2cc96"/>
<line x1="198.70" y1="318.80" x2="210.50" y2="318.80" stroke="#111" stroke-width="1.25"/>
<line x1="204.80" y1="313.00" x2="204.80" y2="324.50" stroke="#111" stroke-width="1.15"/>
<line x1="202.05" y1="313.00" x2="207.55" y2="313.00" stroke="#111" stroke-width="1.15"/>
<line x1="202.05" y1="324.50" x2="207.55" y2="324.50" stroke="#111" stroke-width="1.15"/>
<polygon points="222.50,280.53 220.15,276.07 224.85,276.07" fill="#f2cc96"/>
<polygon points="226.10,292.43 223.75,287.97 228.45,287.97" fill="#f2cc96"/>
<polygon points="222.50,295.73 220.15,291.27 224.85,291.27" fill="#f2cc96"/>
<polygon points="218.80,302.53 216.45,298.07 221.15,298.07" fill="#f2cc96"/>
<polygon points="222.50,306.73 220.15,302.27 224.85,302.27" fill="#f2cc96"/>
<polygon points="222.80,315.33 220.45,310.87 225.15,310.87" fill="#f2cc96"/>
<polygon points="219.70,318.03 217.35,313.57 222.05,313.57" fill="#f2cc96"/>
<polygon points="226.40,319.33 224.05,314.87 228.75,314.87" fill="#f2cc96"/>
<polygon points="222.80,330.13 220.45,325.67 225.15,325.67" fill="#f2cc96"/>
<polygon points="222.80,339.53 220.45,335.07 225.15,335.07" fill="#f2cc96"/>
<polygon points="220.00,311.23 217.65,306.77 222.35,306.77" fill="#f2cc96"/>
<line x1="216.20" y1="308.00" x2="228.80" y2="308.00" stroke="#111" stroke-width="1.25"/>
<line x1="222.60" y1="304.50" x2="222.60" y2="311.50" stroke="#111" stroke-width="1.15"/>
<line x1="219.85" y1="304.50" x2="225.35" y2="304.50" stroke="#111" stroke-width="1.15"/>
<line x1="219.85" y1="311.50" x2="225.35" y2="311.50" stroke="#111" stroke-width="1.15"/>
<text x="274.50" y="236.30" font-size="18" font-weight="bold" text-anchor="start" fill="#222" stroke="#222" stroke-width="0.1" >D</text>
<line x1="324.40" y1="245.50" x2="324.40" y2="372.50" stroke="#444" stroke-width="1"/>
<line x1="320.90" y1="246.00" x2="324.40" y2="246.00" stroke="#444" stroke-width="1"/>
<text x="318.80" y="249.60" font-size="10" font-weight="normal" text-anchor="end" fill="#333" stroke="#333" stroke-width="0.15" >1,000</text>
<line x1="320.90" y1="277.50" x2="324.40" y2="277.50" stroke="#444" stroke-width="1"/>
<text x="318.80" y="281.10" font-size="10" font-weight="normal" text-anchor="end" fill="#333" stroke="#333" stroke-width="0.15" >100</text>
<line x1="320.90" y1="309.00" x2="324.40" y2="309.00" stroke="#444" stroke-width="1"/>
<text x="318.80" y="312.60" font-size="10" font-weight="normal" text-anchor="end" fill="#333" stroke="#333" stroke-width="0.15" >10</text>
<line x1="320.90" y1="340.50" x2="324.40" y2="340.50" stroke="#444" stroke-width="1"/>
<text x="318.80" y="344.10" font-size="10" font-weight="normal" text-anchor="end" fill="#333" stroke="#333" stroke-width="0.15" >1</text>
<line x1="320.90" y1="372.00" x2="324.40" y2="372.00" stroke="#444" stroke-width="1"/>
<text x="318.80" y="375.60" font-size="10" font-weight="normal" text-anchor="end" fill="#333" stroke="#333" stroke-width="0.15" >0.1</text>
<text x="0" y="0" font-size="11.2" font-weight="bold" text-anchor="middle" fill="#222" stroke="#222" stroke-width="0.3" transform="translate(284.00,308.40) rotate(-90)" dominant-baseline="central">Concentration (ng/mL)</text>
<line x1="324.40" y1="372.00" x2="514.50" y2="372.00" stroke="#444" stroke-width="1"/>
<line x1="324.40" y1="372.00" x2="324.40" y2="375.00" stroke="#444" stroke-width="1"/>
<text x="324.40" y="387.20" font-size="10" font-weight="normal" text-anchor="middle" fill="#333" stroke="#333" stroke-width="0.15" >0</text>
<line x1="356.00" y1="372.00" x2="356.00" y2="375.00" stroke="#444" stroke-width="1"/>
<text x="356.00" y="387.20" font-size="10" font-weight="normal" text-anchor="middle" fill="#333" stroke="#333" stroke-width="0.15" >4</text>
<line x1="387.60" y1="372.00" x2="387.60" y2="375.00" stroke="#444" stroke-width="1"/>
<text x="387.60" y="387.20" font-size="10" font-weight="normal" text-anchor="middle" fill="#333" stroke="#333" stroke-width="0.15" >8</text>
<line x1="419.20" y1="372.00" x2="419.20" y2="375.00" stroke="#444" stroke-width="1"/>
<text x="419.20" y="387.20" font-size="10" font-weight="normal" text-anchor="middle" fill="#333" stroke="#333" stroke-width="0.15" >12</text>
<line x1="450.80" y1="372.00" x2="450.80" y2="375.00" stroke="#444" stroke-width="1"/>
<text x="450.80" y="387.20" font-size="10" font-weight="normal" text-anchor="middle" fill="#333" stroke="#333" stroke-width="0.15" >16</text>
<line x1="482.40" y1="372.00" x2="482.40" y2="375.00" stroke="#444" stroke-width="1"/>
<text x="482.40" y="387.20" font-size="10" font-weight="normal" text-anchor="middle" fill="#333" stroke="#333" stroke-width="0.15" >20</text>
<line x1="514.00" y1="372.00" x2="514.00" y2="375.00" stroke="#444" stroke-width="1"/>
<text x="514.00" y="387.20" font-size="10" font-weight="normal" text-anchor="middle" fill="#333" stroke="#333" stroke-width="0.15" >24</text>
<text x="418.40" y="404.60" font-size="10.8" font-weight="bold" text-anchor="middle" fill="#1a1a1a" stroke="#1a1a1a" stroke-width="0.3" >Time (h)</text>
<polyline points="326.38,287.54 328.35,260.76 332.30,257.87 340.20,264.96 356.00,286.45 371.80,296.46 387.60,301.74 514.00,345.38" fill="none" stroke="#6aae3e" stroke-width="1.2" stroke-linejoin="round"/>
<polygon points="326.38,285.83 324.57,289.25 328.18,289.25" fill="#6aae3e"/>
<polygon points="328.35,259.05 326.55,262.47 330.15,262.47" fill="#6aae3e"/>
<polygon points="332.30,256.16 330.50,259.58 334.10,259.58" fill="#6aae3e"/>
<polygon points="340.20,263.25 338.40,266.67 342.00,266.67" fill="#6aae3e"/>
<polygon points="356.00,284.74 354.20,288.16 357.80,288.16" fill="#6aae3e"/>
<polygon points="371.80,294.75 370.00,298.17 373.60,298.17" fill="#6aae3e"/>
<polygon points="387.60,300.03 385.80,303.45 389.40,303.45" fill="#6aae3e"/>
<polygon points="514.00,343.67 512.20,347.09 515.80,347.09" fill="#6aae3e"/>
<polyline points="326.38,277.50 328.35,257.55 332.30,258.88 340.20,263.91 356.00,288.42 371.80,296.63 387.60,308.60" fill="none" stroke="#f0c21c" stroke-width="1.2" stroke-linejoin="round"/>
<rect x="324.88" y="276.00" width="3.0" height="3.0" fill="#f0c21c"/>
<rect x="326.85" y="256.05" width="3.0" height="3.0" fill="#f0c21c"/>
<rect x="330.80" y="257.38" width="3.0" height="3.0" fill="#f0c21c"/>
<rect x="338.70" y="262.41" width="3.0" height="3.0" fill="#f0c21c"/>
<rect x="354.50" y="286.92" width="3.0" height="3.0" fill="#f0c21c"/>
<rect x="370.30" y="295.13" width="3.0" height="3.0" fill="#f0c21c"/>
<rect x="386.10" y="307.10" width="3.0" height="3.0" fill="#f0c21c"/>
<polyline points="326.38,276.57 328.35,256.33 332.30,250.63 340.20,262.38 356.00,281.53 371.80,279.25 387.60,289.05" fill="none" stroke="#e0783a" stroke-width="1.2" stroke-linejoin="round"/>
<polygon points="326.38,274.77 328.18,276.57 326.38,278.37 324.57,276.57" fill="#e0783a"/>
<polygon points="328.35,254.53 330.15,256.33 328.35,258.13 326.55,256.33" fill="#e0783a"/>
<polygon points="332.30,248.83 334.10,250.63 332.30,252.43 330.50,250.63" fill="#e0783a"/>
<polygon points="340.20,260.58 342.00,262.38 340.20,264.18 338.40,262.38" fill="#e0783a"/>
<polygon points="356.00,279.73 357.80,281.53 356.00,283.33 354.20,281.53" fill="#e0783a"/>
<polygon points="371.80,277.45 373.60,279.25 371.80,281.05 370.00,279.25" fill="#e0783a"/>
<polygon points="387.60,287.25 389.40,289.05 387.60,290.85 385.80,289.05" fill="#e0783a"/>
<line x1="485.30" y1="248.10" x2="502.30" y2="248.10" stroke="#e0783a" stroke-width="1.4"/>
<polygon points="494.00,245.50 496.60,248.10 494.00,250.70 491.40,248.10" fill="#e0783a"/>
<text x="505.80" y="251.50" font-size="10" font-weight="bold" text-anchor="start" fill="#1a1a1a" stroke="#1a1a1a" stroke-width="0.3" >4</text>
<line x1="485.30" y1="262.50" x2="502.30" y2="262.50" stroke="#f0c21c" stroke-width="1.4"/>
<rect x="491.90" y="260.40" width="4.2" height="4.2" fill="#f0c21c"/>
<text x="505.80" y="265.90" font-size="10" font-weight="bold" text-anchor="start" fill="#1a1a1a" stroke="#1a1a1a" stroke-width="0.3" >5</text>
<line x1="485.30" y1="276.90" x2="502.30" y2="276.90" stroke="#6aae3e" stroke-width="1.4"/>
<polygon points="494.00,274.52 491.50,279.27 496.50,279.27" fill="#6aae3e"/>
<text x="505.80" y="280.30" font-size="10" font-weight="bold" text-anchor="start" fill="#1a1a1a" stroke="#1a1a1a" stroke-width="0.3" >6</text>
</svg>
</body></html>
